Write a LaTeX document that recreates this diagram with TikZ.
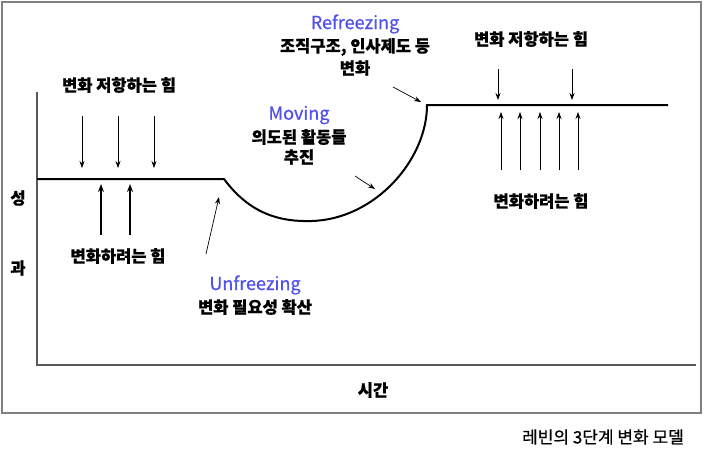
\documentclass[tikz,border=0pt]{standalone}
\usepackage{fontspec}
\setmainfont{Noto Sans CJK KR}[FakeBold=0.6]
\usetikzlibrary{arrows.meta}
\definecolor{lblue}{RGB}{80,80,235}
\begin{document}
\begin{tikzpicture}[x=1pt,y=-1pt,
  lbl/.style={font=\fontsize{16.5}{18}\bfseries,inner sep=0pt},
  stage/.style={inner sep=0pt,text=lblue,font=\fontsize{18}{20}\selectfont},
  fin/.style={-{Stealth[length=7pt,width=5pt]},line width=0.7pt},
  fthick/.style={-{Stealth[length=8pt,width=6pt]},line width=1.8pt},
  lvl/.style={line width=2pt}]
\useasboundingbox (0,0) rectangle (704,461);
\draw[line width=1.5pt,gray] (2,2) rectangle (701,413);
% axes
\coordinate (ytop) at (37,92); \coordinate (org) at (37,365); \coordinate (xend) at (696,365);
\draw[line width=1.5pt,gray!70!black] (ytop) -- (org) -- (xend);
% curve
\coordinate (a) at (37,179); \coordinate (b) at (224,179); \coordinate (m) at (312,221);
\coordinate (c) at (427,105); \coordinate (d) at (668,105);
\draw[lvl] (a) -- (b) .. controls (250,214) and (280,222) .. (m) .. controls (375,219) and (427,160) .. (c) -- (d);
% left forces
\foreach \x/\n in {82/1,118/2,154/3}{
  \coordinate (ls\n) at (\x,116); \coordinate (le\n) at (\x,168);
  \draw[fin] (ls\n) -- (le\n);}
\foreach \x/\n in {101/1,130/2}{
  \coordinate (us\n) at (\x,235); \coordinate (ue\n) at (\x,184);
  \draw[fthick] (us\n) -- (ue\n);}
\node[lbl] (lres) at (119,85) {변화 저항하는 힘};
\node[lbl] (lchg) at (118,256) {변화하려는 힘};
% right forces
\foreach \x/\n in {498/1,572/2}{
  \coordinate (rs\n) at (\x,69); \coordinate (re\n) at (\x,100);
  \draw[fin] (rs\n) -- (re\n);}
\foreach \x/\n in {501/1,520/2,540/3,559/4,578/5}{
  \coordinate (rus\n) at (\x,170); \coordinate (rue\n) at (\x,112);
  \draw[fin] (rus\n) -- (rue\n);}
\node[lbl] (rres) at (531,39) {변화 저항하는 힘};
\node[lbl] (rchg) at (541,201) {변화하려는 힘};
% stages
\node[stage] (unf) at (255,285) {Unfreezing};
\node[lbl] (unft) at (255,307) {변화 필요성 확산};
\coordinate (ua) at (206,254); \coordinate (ub) at (219,197);
\draw[fin] (ua) -- (ub);
\node[stage] (mov) at (299,115) {Moving};
\node[lbl] (movt) at (299,137) {의도된 활동들};
\node[lbl] (movt2) at (299,157) {추진};
\coordinate (ma) at (355,176); \coordinate (mb) at (375,189);
\draw[fin] (ma) -- (mb);
\node[stage] (ref) at (355,24) {Refreezing};
\node[lbl] (reft) at (355,47) {조직구조, 인사제도 등};
\node[lbl] (reft2) at (355,68) {변화};
\coordinate (ra) at (393,87); \coordinate (rb) at (421,102);
\draw[fin] (ra) -- (rb);
% axis labels
\node[lbl] (y1) at (18,198) {성};
\node[lbl] (y2) at (18,268) {과};
\node[lbl] (xl) at (373,390) {시간};
\node[inner sep=0pt,font=\fontsize{17}{19}\selectfont] (cap) at (603,437) {레빈의 3단계 변화 모델};
\end{tikzpicture}
\end{document}
